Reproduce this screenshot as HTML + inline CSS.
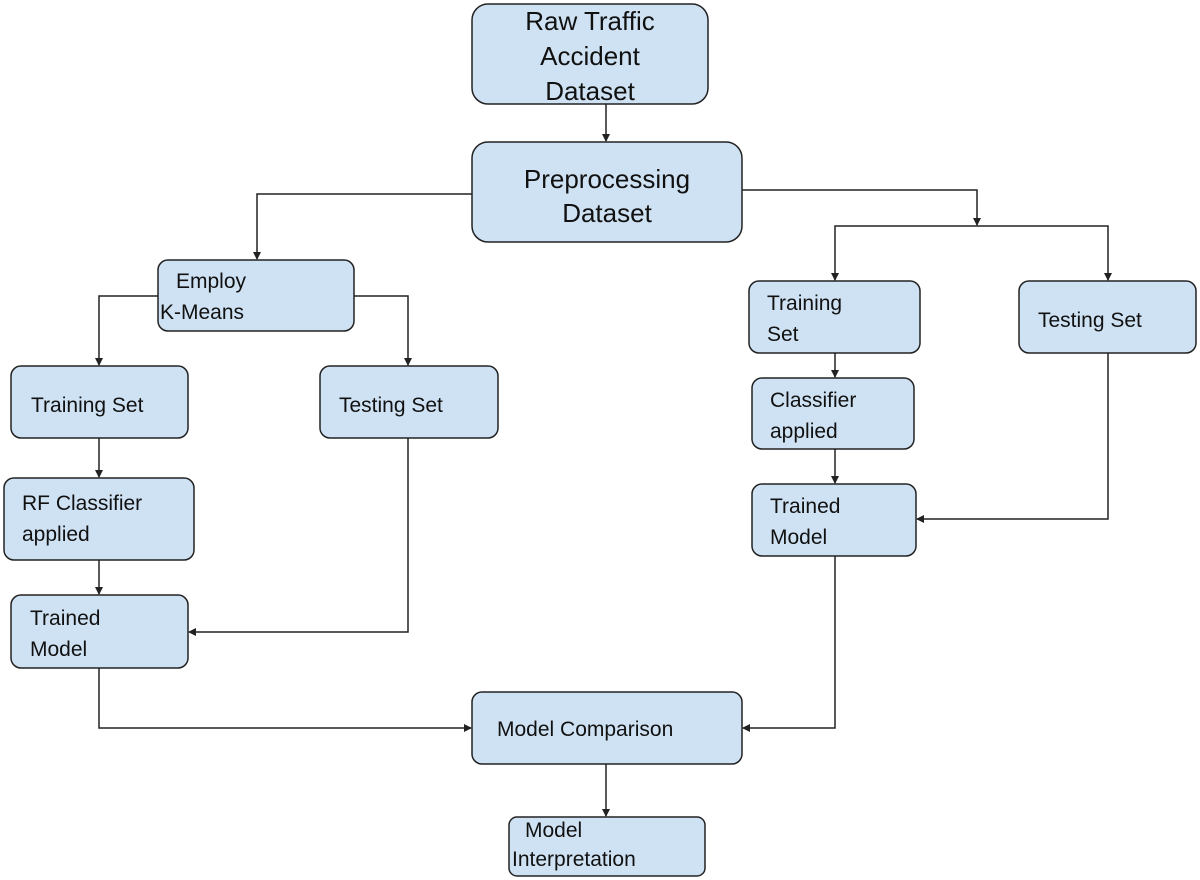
<!DOCTYPE html>
<html><head><style>body{margin:0;background:#fff}svg{display:block}</style></head><body>
<svg width="1200" height="880" viewBox="0 0 1200 880" xmlns="http://www.w3.org/2000/svg" font-family="Liberation Sans, Arial, sans-serif" fill="#111">
<defs><marker id="a" markerWidth="8" markerHeight="8" refX="7" refY="4" orient="auto" markerUnits="userSpaceOnUse"><path d="M0,0 L8,4 L0,8 z" fill="#222"/></marker></defs>
<g stroke="#222" stroke-width="1.5" fill="none" marker-end="url(#a)">
<path d="M606,104 V141"/>
<path d="M472,194 H257 V259"/>
<path d="M742,190 H977 V225"/>
<path d="M977,226 H835 V280"/>
<path d="M977,226 H1108 V280"/>
<path d="M158,296 H99 V365"/>
<path d="M354,296 H408 V365"/>
<path d="M99,438 V477"/>
<path d="M99,560 V594"/>
<path d="M408,438 V632 H189"/>
<path d="M99,668 V728 H471"/>
<path d="M835,353 V377"/>
<path d="M835,449 V483"/>
<path d="M1108,353 V519 H917"/>
<path d="M835,556 V728 H743"/>
<path d="M606,764 V816"/>
</g>
<g fill="#cfe2f3" stroke="#222" stroke-width="1.5">
<rect x="472" y="4" width="236" height="100" rx="16"/>
<rect x="472" y="142" width="270" height="100" rx="16"/>
<rect x="158" y="260" width="196" height="71" rx="10"/>
<rect x="11" y="366" width="177" height="72" rx="10"/>
<rect x="320" y="366" width="178" height="72" rx="10"/>
<rect x="4" y="478" width="190" height="82" rx="10"/>
<rect x="11" y="595" width="177" height="73" rx="10"/>
<rect x="472" y="692" width="270" height="72" rx="10"/>
<rect x="509" y="817" width="196" height="59" rx="8"/>
<rect x="749" y="281" width="171" height="72" rx="10"/>
<rect x="1019" y="281" width="177" height="72" rx="10"/>
<rect x="752" y="378" width="162" height="71" rx="10"/>
<rect x="752" y="484" width="164" height="72" rx="10"/>
</g>
<g font-size="26" text-anchor="middle">
<text x="590" y="30">Raw Traffic</text>
<text x="590" y="65">Accident</text>
<text x="590" y="100">Dataset</text>
<text x="607" y="188">Preprocessing</text>
<text x="607" y="222">Dataset</text>
</g>
<g font-size="21">
<text x="176" y="288">Employ</text>
<text x="160" y="319">K-Means</text>
<text x="31" y="412">Training Set</text>
<text x="339" y="412">Testing Set</text>
<text x="22" y="510">RF Classifier</text>
<text x="22" y="541">applied</text>
<text x="30" y="625">Trained</text>
<text x="30" y="656">Model</text>
<text x="497" y="736">Model Comparison</text>
<text x="525" y="837">Model</text>
<text x="512" y="866">Interpretation</text>
<text x="767" y="310">Training</text>
<text x="767" y="341">Set</text>
<text x="1038" y="327">Testing Set</text>
<text x="770" y="407">Classifier</text>
<text x="770" y="438">applied</text>
<text x="770" y="513">Trained</text>
<text x="770" y="544">Model</text>
</g>
</svg>
</body></html>
